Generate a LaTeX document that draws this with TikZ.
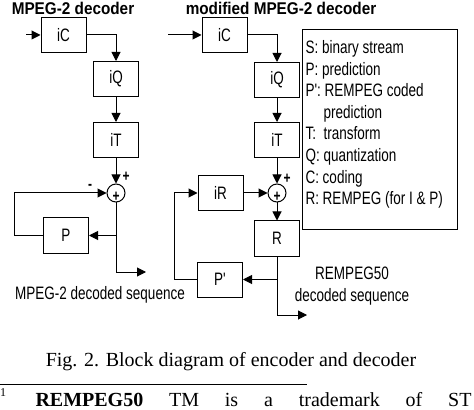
\documentclass[tikz,border=0pt]{standalone}
\usepackage{fontspec}
\setmainfont{Liberation Serif}
\newfontfamily\narrowsans[FakeStretch=0.75]{Liberation Sans}
\newfontfamily\titlesans[FakeStretch=0.9]{Liberation Sans}
\usetikzlibrary{arrows.meta,positioning,calc}

\tikzset{
    blk/.style={rectangle, draw, minimum width=22.5pt, minimum height=17.5pt, inner sep=0pt, font=\narrowsans\fontsize{9}{10}\selectfont},
    adder/.style={circle, draw, minimum size=9pt, inner sep=0pt},
    arrow/.style={-{Triangle[length=4.5pt,width=4.5pt]}},
    lbl/.style={font=\narrowsans\fontsize{9}{10.8}\selectfont, inner sep=0pt},
    sgn/.style={font=\narrowsans\bfseries\fontsize{8}{8}\selectfont, inner sep=0pt},
    title/.style={font=\titlesans\bfseries\fontsize{8.5}{10}\selectfont, inner sep=0pt}
}

\begin{document}
\begin{tikzpicture}[x=0.5pt, y=-0.5pt, line width=0.5pt]
    \useasboundingbox (0,0) rectangle (474,410);

    % Titles
    \node[title, anchor=base] (ltitle) at (73,15) {MPEG-2 decoder};
    \node[title, anchor=base] (rtitle) at (281,15) {modified MPEG-2 decoder};

    % MPEG-2 decoder
    \node[blk] (lic) at (63.5,35) {iC};
    \node[blk] (liq) at (116,79) {iQ};
    \node[blk] (lit) at (116,140) {iT};
    \node[adder] (lsum) at (116,193) {};
    \node[blk] (lp) at (66,235.5) {P};
    \node[sgn] (lplusa) at (126,177) {+};
    \node[sgn] (lplusb) at (116,197) {+};
    \node[sgn] (lminus) at (90,187) {-};
    \node[lbl] (lseq) at (100,295) {MPEG-2 decoded sequence};

    \coordinate (lin) at (26,35);
    \coordinate (ljoin) at (116,235.5);
    \coordinate (lout) at (146,272);
    \draw[arrow] (lin) -- (lic);
    \draw[arrow] (lic.east) -| (liq.north);
    \draw[arrow] (liq) -- (lit);
    \draw[arrow] (lit) -- (lsum);
    \draw[arrow] (lp.west) -- ++(-29,0) |- (lsum.west);
    \draw (lsum) -- (ljoin);
    \draw[arrow] (ljoin) -- (lp);
    \draw[arrow] (ljoin) |- (lout);

    % modified MPEG-2 decoder
    \node[blk] (ric) at (224.5,35) {iC};
    \node[blk] (riq) at (277,80) {iQ};
    \node[blk] (rit) at (277,140) {iT};
    \node[adder] (rsum) at (277,193) {};
    \node[blk] (rir) at (220.5,193) {iR};
    \node[blk] (rr) at (277,238.5) {R};
    \node[blk] (rpp) at (220,279.5) {P'};
    \node[sgn] (rplusa) at (287,179) {+};
    \node[sgn] (rplusb) at (277,197) {+};
    \node[lbl, align=center] (rseq) at (352,286) {REMPEG50\\decoded sequence};

    \coordinate (rin) at (168,35);
    \coordinate (rjoin) at (277,279.5);
    \coordinate (rout) at (307,315);
    \draw[arrow] (rin) -- (ric);
    \draw[arrow] (ric.east) -| (riq.north);
    \draw[arrow] (riq) -- (rit);
    \draw[arrow] (rit) -- (rsum);
    \draw[arrow] (rir) -- (rsum);
    \draw[arrow] (rsum) -- (rr);
    \draw[arrow] (rpp.west) -- ++(-23,0) |- (rir.west);
    \draw (rr) -- (rjoin);
    \draw[arrow] (rjoin) -- (rpp);
    \draw[arrow] (rjoin) |- (rout);

    % Legend
    \node[draw, minimum width=77.5pt, minimum height=100pt, inner sep=0pt, anchor=north west] (legend) at (302,29) {};
    \node[lbl, align=left, anchor=north west] (legtxt) at (305,40) {S: binary stream\\P: prediction\\P': REMPEG coded\\\hspace*{9pt}prediction\\T:~ transform\\Q: quantization\\C: coding\\R: REMPEG (for I \& P)};

    % Caption and footnote
    \node[font=\fontsize{10}{12}\selectfont, inner sep=0pt] (caption) at (231,362) {Fig. 2. Block diagram of encoder and decoder};
    \draw (0,384) -- (307,384);
    \node[font=\fontsize{6}{7}\selectfont, inner sep=0pt] (fnmark) at (3,393) {1};
    \node[font=\fontsize{10}{12}\selectfont, inner sep=0pt, anchor=base west] (fntext) at (35,406) {\hbox to 218pt{\textbf{REMPEG50}\hfill TM\hfill is\hfill a\hfill trademark\hfill of\hfill ST}};

\end{tikzpicture}
\end{document}
